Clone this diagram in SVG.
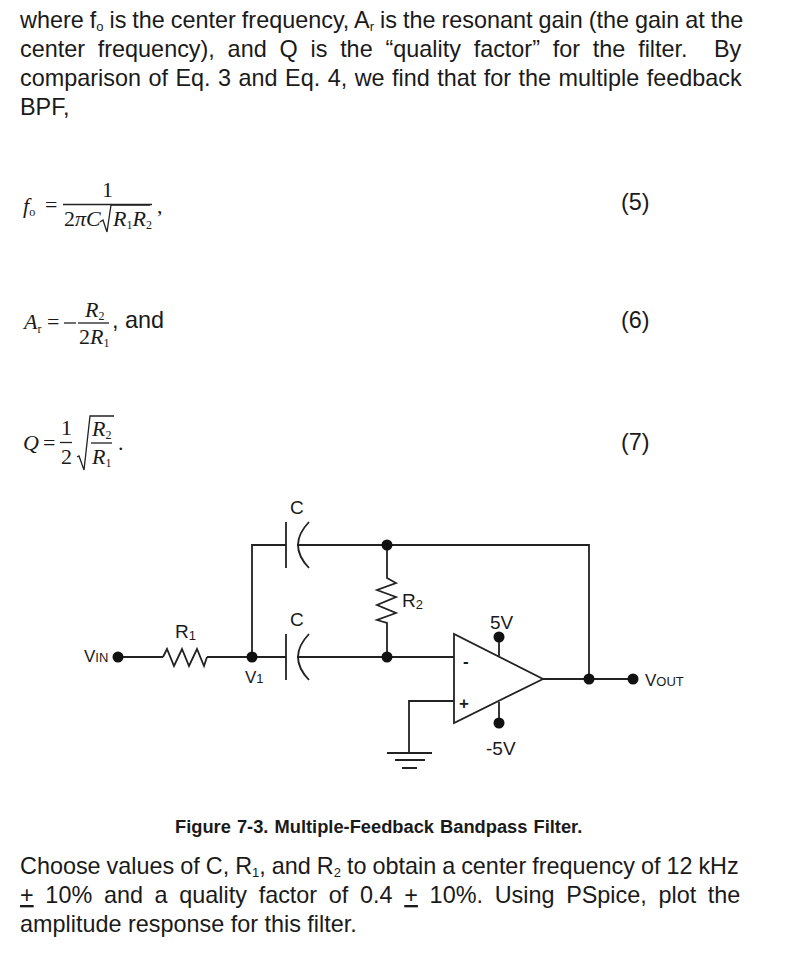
<svg xmlns="http://www.w3.org/2000/svg" width="790" height="977" viewBox="0 0 790 977">
<style>
text{font-family:"Liberation Sans",Arial,sans-serif;fill:#1a1a1a}
.b{font-size:23.4px}
.u{font-size:13px}
.l{font-size:19px}
.c{font-size:17px}
.n{font-size:13px}
.m{font-family:"Liberation Serif","Times New Roman",serif;font-size:22px}
.i{font-style:italic}
.s{font-size:12px;font-style:normal}
.w{fill:none;stroke:#222;stroke-width:1.8}
.e{fill:none;stroke:#222;stroke-width:1.3}
.d{fill:#111}
</style>
<rect width="790" height="977" fill="#fff"/>
<g id="body-top">
<text class="b" x="20" y="28" word-spacing="-0.5">where f<tspan class="u" dy="3">o</tspan><tspan dy="-3"> is the center frequency, A</tspan><tspan class="u" dy="3">r</tspan><tspan dy="-3"> is the resonant gain (the gain at the</tspan></text>
<text class="b" x="20" y="57" word-spacing="6.3">center frequency), and Q is the “quality factor” for the filter.</text>
<text class="b" x="714" y="57">By</text>
<text class="b" x="20" y="86" word-spacing="1">comparison of Eq. 3 and Eq. 4, we find that for the multiple feedback</text>
<text class="b" x="20" y="115">BPF,</text>
</g>
<g id="eq5">
<text class="m i" x="23" y="213" font-size="24">f<tspan class="s" dy="3">o</tspan></text>
<text class="m" x="45" y="212">=</text>
<text class="m" x="102" y="197">1</text>
<line class="e" x1="63" y1="204.500" x2="152" y2="204.500"/>
<text class="m" x="64" y="226">2<tspan class="i">πC</tspan></text>
<path class="e" d="M100 222l3-2 4 12 4-27h39"/>
<text class="m i" x="113" y="226">R<tspan class="s" dy="3">1</tspan><tspan dy="-3">R</tspan><tspan class="s" dy="3">2</tspan></text>
<text class="m" x="157" y="213">,</text>
<text class="b" x="621" y="210">(5)</text>
</g>
<g id="eq6">
<text class="m i" x="24" y="329">A<tspan class="s" dy="4">r</tspan></text>
<text class="m" x="47" y="329">=</text>
<line class="e" x1="64" y1="323" x2="76" y2="323"/>
<line class="e" x1="78" y1="323" x2="109" y2="323"/>
<text class="m i" x="85" y="317">R<tspan class="s" dy="3">2</tspan></text>
<text class="m" x="79" y="344">2<tspan class="i">R</tspan><tspan class="s" dy="3">1</tspan></text>
<text class="b" x="112" y="328">, and</text>
<text class="b" x="621" y="328">(6)</text>
</g>
<g id="eq7">
<text class="m i" x="23" y="450">Q</text>
<text class="m" x="43" y="450">=</text>
<text class="m" x="61" y="435">1</text>
<line class="e" x1="60" y1="442.500" x2="72" y2="442.500"/>
<text class="m" x="61" y="464">2</text>
<path class="e" d="M77 457l2-1 5 14 6-54h24"/>
<line class="e" x1="91" y1="443" x2="112" y2="443"/>
<text class="m i" x="92" y="436">R<tspan class="s" dy="3">2</tspan></text>
<text class="m i" x="92" y="464">R<tspan class="s" dy="3">1</tspan></text>
<text class="m" x="118" y="450">.</text>
<text class="b" x="621" y="450">(7)</text>
</g>
<g id="connectors">
<path class="w" d="M118 657H163M207 657H286M252 657V545H286M297 545H589V679M297 657H454"/>
<path class="w" d="M163 657l4-8 7 17 8-17 7 17 8-17 7 17 3-9"/>
<path class="w" d="M387 545V578l9 5-19 7 19 7-19 8 19 8-19 7 10 3V657"/>
<path class="w" d="M543 679H633"/>
<path class="w" d="M499 637V656M499 702V723"/>
<path class="w" d="M454 701H409V753"/>
</g>
<g id="cap-top"><path class="w" d="M286 522V568M309 522Q287 545 309 568"/></g>
<g id="cap-bottom"><path class="w" d="M286 634V680M309 634Q287 657 309 680"/></g>
<g id="ground"><path class="w" d="M387 753H432M395 760H425M402 768H417"/></g>
<g id="opamp"><path class="w" d="M454 634V723L543 679Z" fill="#fff"/>
<text x="463" y="667" font-size="17" font-weight="bold">-</text><text x="459" y="709" font-size="17" font-weight="bold">+</text></g>
<g id="dots">
<circle class="d" cx="118" cy="657" r="5.500"/><circle class="d" cx="252" cy="657" r="5.500"/>
<circle class="d" cx="387" cy="545" r="5.500"/><circle class="d" cx="387" cy="657" r="5.500"/>
<circle class="d" cx="589" cy="679" r="5.500"/><circle class="d" cx="633" cy="679" r="5.500"/>
<circle class="d" cx="499" cy="637" r="5.500"/><circle class="d" cx="499" cy="723" r="5.500"/>
</g>
<g id="labels">
<text class="l" x="290" y="514">C</text>
<text class="l" x="290" y="626">C</text>
<text class="l" x="175" y="638">R<tspan class="n" dy="2">1</tspan></text>
<text class="l" x="402" y="607">R<tspan class="n" dy="2">2</tspan></text>
<text class="c" x="84" y="662">V<tspan class="n">IN</tspan></text>
<text class="c" x="245" y="683">V<tspan class="n">1</tspan></text>
<text class="c" x="645" y="686">V<tspan class="n">OUT</tspan></text>
<text class="l" x="490" y="629">5V</text>
<text class="l" x="486" y="755">-5V</text>
</g>
<g id="caption"><text x="175" y="833" font-size="18.300" font-weight="bold" word-spacing="1">Figure 7-3.  Multiple-Feedback Bandpass Filter.</text></g>
<g id="body-bottom">
<text class="b" x="20" y="874" word-spacing="-0.5">Choose values of C, R<tspan class="u" dy="3">1</tspan><tspan dy="-3">, and R</tspan><tspan class="u" dy="3">2</tspan><tspan dy="-3"> to obtain a center frequency of 12 kHz</tspan></text>
<text class="b" x="20" y="903" word-spacing="5.2"><tspan text-decoration="underline">+</tspan> 10% and a quality factor of 0.4 <tspan text-decoration="underline">+</tspan> 10%. Using PSpice, plot the</text>
<text class="b" x="20" y="932">amplitude response for this filter.</text>
</g>
</svg>
